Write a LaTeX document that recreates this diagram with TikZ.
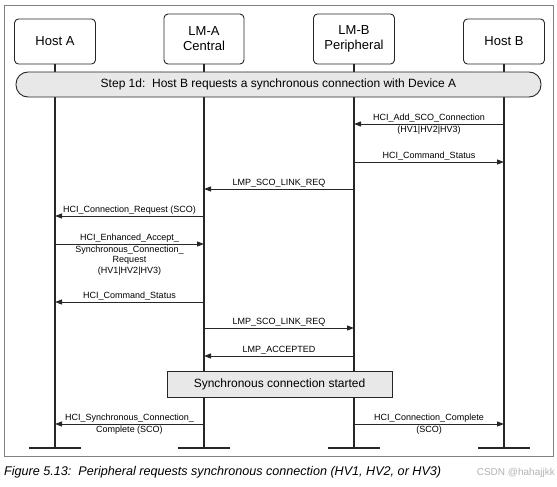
\documentclass[tikz,border=0pt]{standalone}
\usepackage{fontspec}
\setmainfont{Liberation Sans}
\usetikzlibrary{arrows.meta}
\begin{document}
\begin{tikzpicture}[x=1pt,y=-1pt,
  actor/.style={draw=black!85,line width=0.9pt,rounded corners=4pt,fill=white,align=center,
    font=\fontsize{13}{15}\selectfont,inner sep=0pt},
  life/.style={draw=black!85,line width=1.1pt},
  msg/.style={draw=black!85,line width=1pt,-{Triangle[length=7pt,width=5pt]}},
  lbl/.style={font=\fontsize{9}{10.6}\selectfont,align=center,inner sep=1.2pt},
  endbar/.style={draw=black!85,line width=2.6pt},
  band/.style={draw=black!85,line width=0.9pt,fill=black!9,inner sep=0pt}]
\useasboundingbox (0,0) rectangle (557,487);
\draw[black!50,line width=0.9pt] (4,5) rectangle (553,456);
% actors
\node[actor,minimum width=81pt,minimum height=45pt] (hA) at (55,41.5) {Host A};
\node[actor,minimum width=80pt,minimum height=50pt] (lA) at (204,39) {LM-A\\Central};
\node[actor,minimum width=81pt,minimum height=50pt] (lB) at (354,39) {LM-B\\Peripheral};
\node[actor,minimum width=81pt,minimum height=45pt] (hB) at (504,41.5) {Host B};
% end coordinate
\coordinate (yend) at (0,448);
\foreach \n in {hA,lA,lB,hB}{
  \draw[life] (\n.south) -- (\n.south |- yend);
  \draw[endbar] ([xshift=-26pt]\n.south |- yend) -- ([xshift=26pt]\n.south |- yend);
}
% step band
\node[band,rounded corners=12pt,minimum width=525pt,minimum height=25pt,
  font=\fontsize{12}{14}\selectfont] (step) at (278.5,84.5)
  {Step 1d:\ \ Host B requests a synchronous connection with Device A};
% message y-levels
\coordinate (y1) at (0,124);
\coordinate (y2) at (0,162);
\coordinate (y3) at (0,189);
\coordinate (y4) at (0,216);
\coordinate (y5) at (0,244);
\coordinate (y6) at (0,302);
\coordinate (y7) at (0,328);
\coordinate (y8) at (0,356);
\coordinate (y9) at (0,424);
% messages
\draw[msg] (hB |- y1) -- node[lbl,anchor=south]{HCI\_Add\_SCO\_Connection}
  node[lbl,anchor=north]{(HV1|HV2|HV3)} (lB |- y1);
\draw[msg] (lB |- y2) -- node[lbl,anchor=south]{HCI\_Command\_Status} (hB |- y2);
\draw[msg] (lB |- y3) -- node[lbl,anchor=south]{LMP\_SCO\_LINK\_REQ} (lA |- y3);
\draw[msg] (lA |- y4) -- node[lbl,anchor=south]{HCI\_Connection\_Request (SCO)} (hA |- y4);
\draw[msg] (hA |- y5) -- node[lbl,anchor=south]{HCI\_Enhanced\_Accept\_}
  node[lbl,anchor=north]{Synchronous\_Connection\_\\Request\\(HV1|HV2|HV3)} (lA |- y5);
\draw[msg] (lA |- y6) -- node[lbl,anchor=south]{HCI\_Command\_Status} (hA |- y6);
\draw[msg] (lA |- y7) -- node[lbl,anchor=south]{LMP\_SCO\_LINK\_REQ} (lB |- y7);
\draw[msg] (lB |- y8) -- node[lbl,anchor=south]{LMP\_ACCEPTED} (lA |- y8);
\node[band,minimum width=225pt,minimum height=26pt,font=\fontsize{12}{14}\selectfont]
  (sync) at (279.5,384) {Synchronous connection started};
\draw[msg] (lA |- y9) -- node[lbl,anchor=south]{HCI\_Synchronous\_Connection\_}
  node[lbl,anchor=north]{Complete (SCO)} (hA |- y9);
\draw[msg] (lB |- y9) -- node[lbl,anchor=south]{HCI\_Connection\_Complete}
  node[lbl,anchor=north]{(SCO)} (hB |- y9);
% caption
\node[anchor=west,inner sep=0pt,font=\fontsize{12.6}{14}\selectfont\itshape] (cap) at (4,472)
  {Figure 5.13:\ \ Peripheral requests synchronous connection (HV1, HV2, or HV3)};
\node[anchor=east,inner sep=0pt,text=black!30,font=\fontsize{10}{12}\selectfont] (wm) at (555,473)
  {CSDN @hahajjkk};
\end{tikzpicture}
\end{document}
